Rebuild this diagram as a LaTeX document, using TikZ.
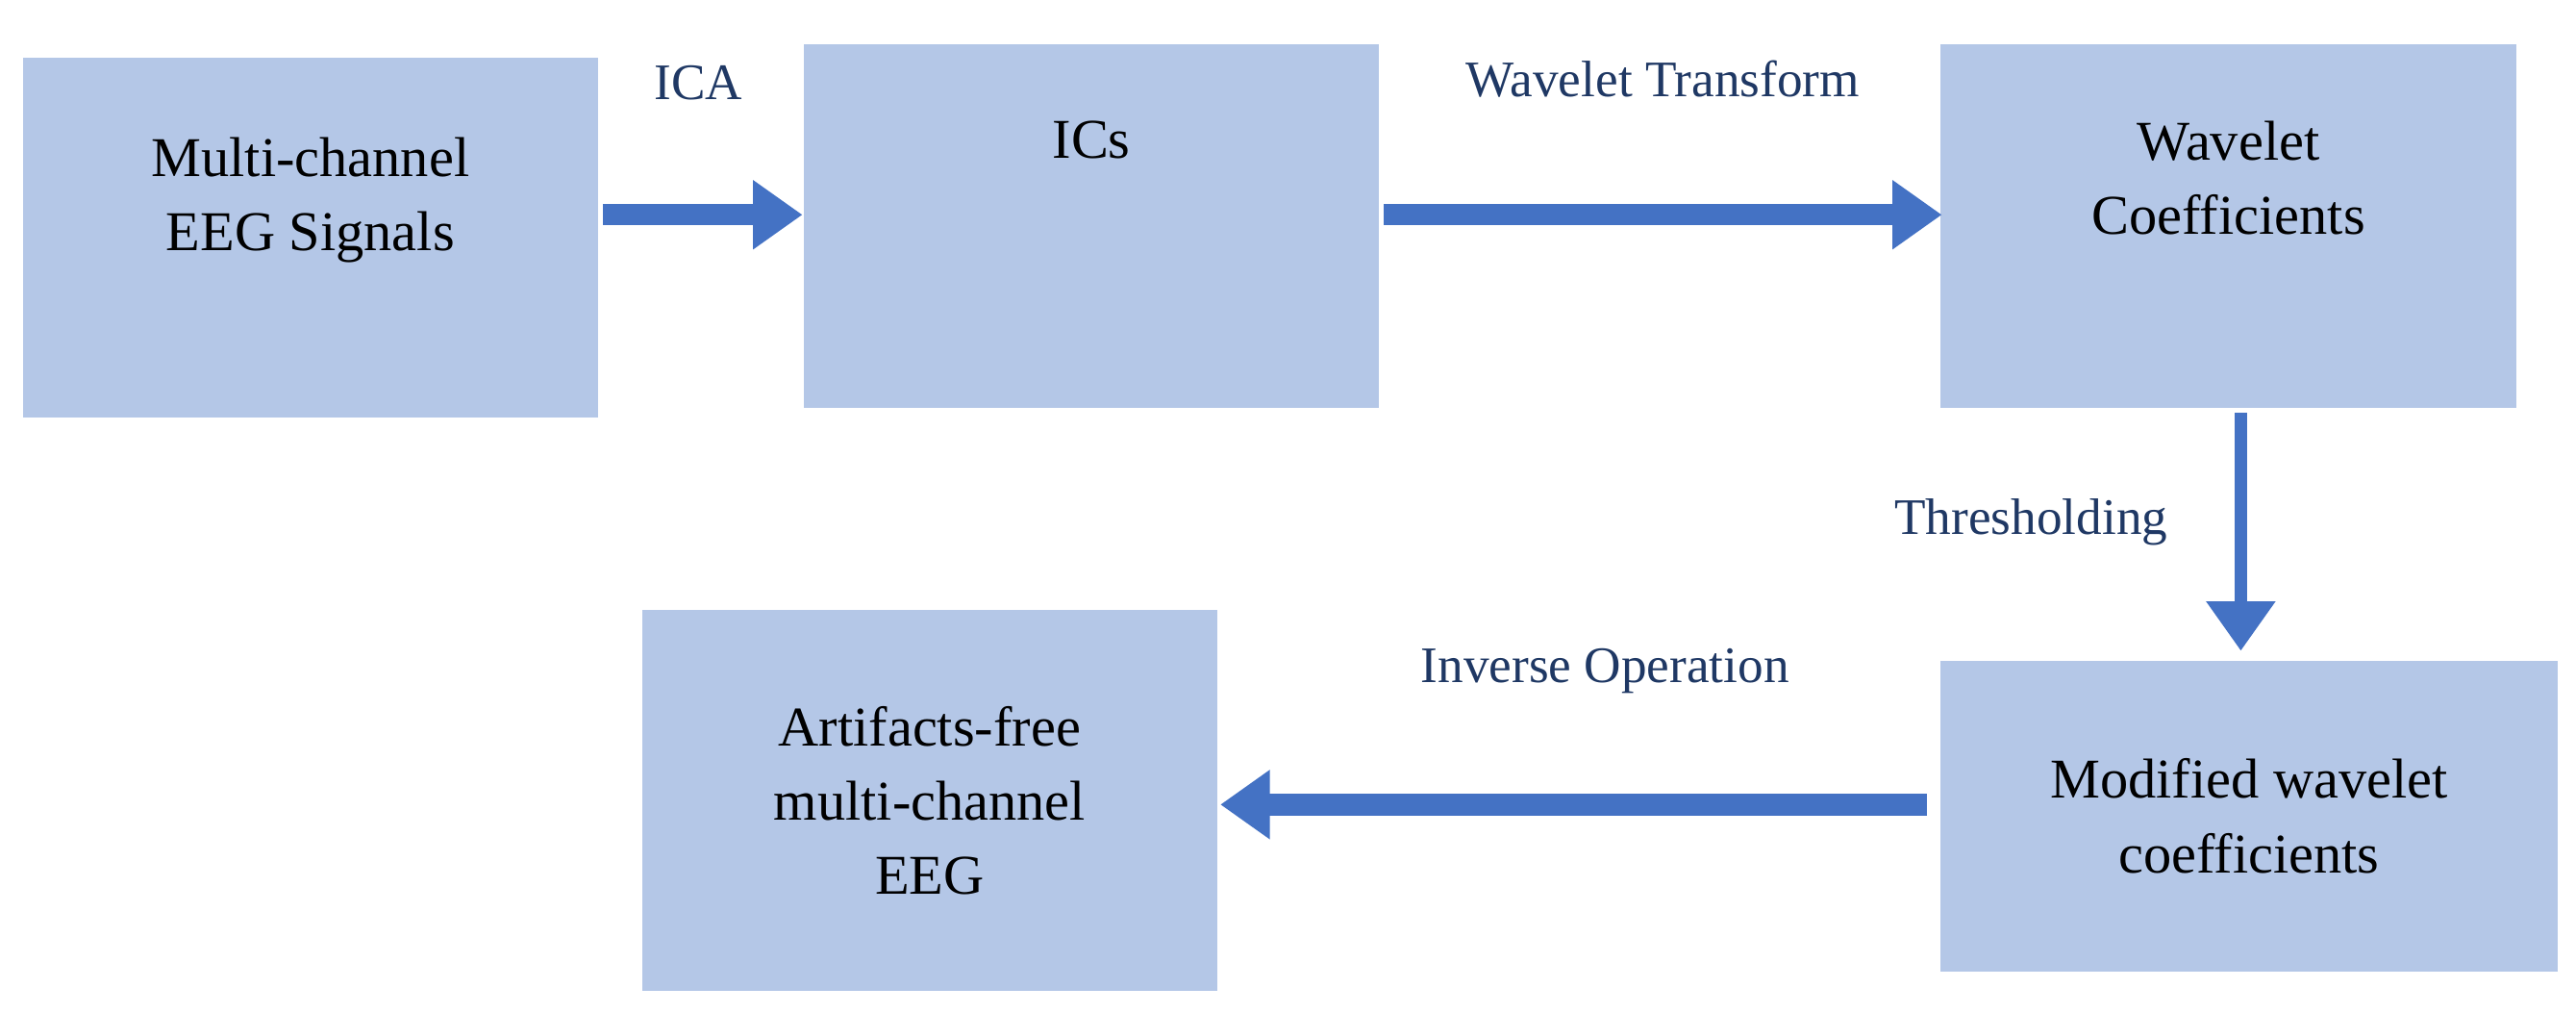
\documentclass[tikz,border=0pt]{standalone}
\usepackage{fontspec}
\setmainfont{Liberation Serif}
\usetikzlibrary{arrows.meta}
\definecolor{boxfill}{HTML}{B4C7E7}
\definecolor{arrowc}{HTML}{4472C4}
\definecolor{labc}{HTML}{1F3864}
\tikzset{
  blk/.style={fill=boxfill, draw=none, inner sep=0pt, align=center,
    font=\fontsize{34}{45}\selectfont, text=black},
  conn/.style={arrowc, line width=13pt, -{Triangle[length=30pt,width=40pt]}},
  lab/.style={text=labc, font=\fontsize{31}{36}\selectfont}
}
\begin{document}
\begin{tikzpicture}[x=1pt,y=-1pt]
\useasboundingbox (0,0) rectangle (1560,613);
\node[blk, minimum width=348pt, minimum height=218pt] (b1) at (188,144) {Multi-channel\\EEG Signals\\[8pt]};
\node[blk, minimum width=348pt, minimum height=220pt] (b2) at (661,137) {ICs\\[60pt]};
\node[blk, minimum width=349pt, minimum height=220pt] (b3) at (1349.5,137) {Wavelet\\Coefficients\\[14pt]};
\node[blk, minimum width=374pt, minimum height=188pt] (b4) at (1362,494) {Modified wavelet\\coefficients};
\node[blk, minimum width=348pt, minimum height=231pt] (b5) at (563,484.5) {Artifacts-free\\multi-channel\\EEG};
\coordinate (a1) at (365,130); \coordinate (a2) at (486,130);
\draw[conn] (a1) -- (a2);
\coordinate (c1) at (838,130); \coordinate (c2) at (1176,130);
\draw[conn] (c1) -- (c2);
\coordinate (d1) at (1357,250); \coordinate (d2) at (1357,394);
\draw[conn, line width=8pt] (d1) -- (d2);
\coordinate (e1) at (1167,487); \coordinate (e2) at (739,487);
\draw[conn] (e1) -- (e2);
\node[lab] (l1) at (423,50) {ICA};
\node[lab] (l2) at (1007,48) {Wavelet Transform};
\node[lab] (l3) at (1230,316) {Thresholding};
\node[lab] (l4) at (972,406) {Inverse Operation};
\end{tikzpicture}
\end{document}
